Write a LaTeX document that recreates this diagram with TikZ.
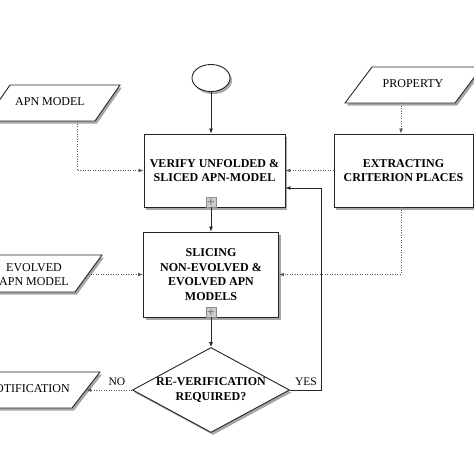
\documentclass[tikz,border=0pt]{standalone}
\usepackage{fontspec}
\setmainfont{Liberation Serif}
\usetikzlibrary{shapes.geometric,arrows.meta,calc}
\begin{document}
\begin{tikzpicture}[x=1pt,y=-1pt,
  shadowed/.style={preaction={fill=black,opacity=0.35,transform canvas={xshift=2pt,yshift=-2.5pt}}},
  box/.style={shadowed,draw=black!85,line width=0.9pt,fill=white,align=center,inner sep=2pt,
    font={\fontsize{12}{14.7}\selectfont\bfseries}},
  para/.style={shadowed,draw=black!85,line width=0.9pt,fill=white},
  ptext/.style={align=center,inner sep=0pt,font={\fontsize{12}{14}\selectfont}},
  lbl/.style={inner sep=0pt,font={\fontsize{11.5}{13}\selectfont}},
  plusbox/.style={draw=black!45,fill=black!20,line width=0.5pt,minimum width=10pt,minimum height=10pt,inner sep=0pt,
    font={\sffamily\bfseries\small},text=black!60},
  arr/.style={-{Latex[length=5pt,width=4pt]},line width=0.8pt,draw=black!85},
  dot/.style={-{Latex[length=5pt,width=4pt]},line width=0.8pt,draw=black!65,dash pattern=on 1pt off 1.5pt}
]
\useasboundingbox (0,0) rectangle (474,474);
\clip (0,0) rectangle (474,474);

% parallelograms (input / output)
\filldraw[para] (10,85) -- (120,85) -- (95,121) -- (-15,121) -- cycle;
\node[ptext] (apn) at (50,102) {APN MODEL};
\filldraw[para] (372,67) -- (482,67) -- (455,103) -- (345,103) -- cycle;
\node[ptext] (prop) at (413,84) {PROPERTY};
\filldraw[para] (-8,255) -- (102,255) -- (75,292) -- (-35,292) -- cycle;
\node[ptext] (evol) at (34,274.5) {EVOLVED\\APN MODEL};
\filldraw[para] (-10,372) -- (100,372) -- (72,408) -- (-38,408) -- cycle;
\node[ptext,anchor=east] (notif) at (70,389) {NOTIFICATION};

% start
\node[shadowed,draw=black!85,line width=0.9pt,fill=white,shape=ellipse,minimum width=38pt,minimum height=27pt,inner sep=0pt] (start) at (211,78) {};

% process boxes
\node[box,minimum width=141pt,minimum height=73pt] (verify) at (214.5,170.5) {VERIFY UNFOLDED \&\\SLICED APN-MODEL};
\node[box,minimum width=139pt,minimum height=73pt] (extract) at (403.5,170.5) {EXTRACTING\\CRITERION PLACES};
\node[box,minimum width=135pt,minimum height=85pt] (slicing) at (211,274.5) {SLICING\\NON-EVOLVED \&\\EVOLVED APN\\MODELS};
\node[box,shape=diamond,aspect=1.85,minimum width=157pt,minimum height=85pt,inner sep=0pt] (diam) at (211,390) {RE-VERIFICATION\\REQUIRED?};

% plus markers
\node[plusbox,anchor=south] (p1) at (211,207) {+};
\node[plusbox,anchor=south] (p2) at (211,317) {+};

% named coordinates
\coordinate (apnb) at (77,121);
\coordinate (propb) at (401,103);
\coordinate (evolr) at (88,274.5);
\coordinate (notifr) at (86,390);
\coordinate (yescorner) at (321,188);

% solid flow
\draw[arr] (start.south) -- (start.south |- verify.north);
\draw[arr] (p1.south) -- (p1.south |- slicing.north);
\draw[arr] (p2.south) -- (diam.north);
\draw[arr] (diam.east) -| (yescorner) -- (verify.east |- yescorner);

% dotted flow
\draw[dot] (apnb) |- (verify.west);
\draw[dot] (propb) -- (propb |- extract.north);
\draw[dot] (extract.west) -- (verify.east);
\draw[dot] (extract.south -| propb) |- (slicing.east);
\draw[dot] (evolr) -- (slicing.west);
\draw[dot] (diam.west) -- (notifr);

% labels
\node[lbl] (no) at (117,382) {NO};
\node[lbl] (yes) at (306,382) {YES};
\end{tikzpicture}
\end{document}
